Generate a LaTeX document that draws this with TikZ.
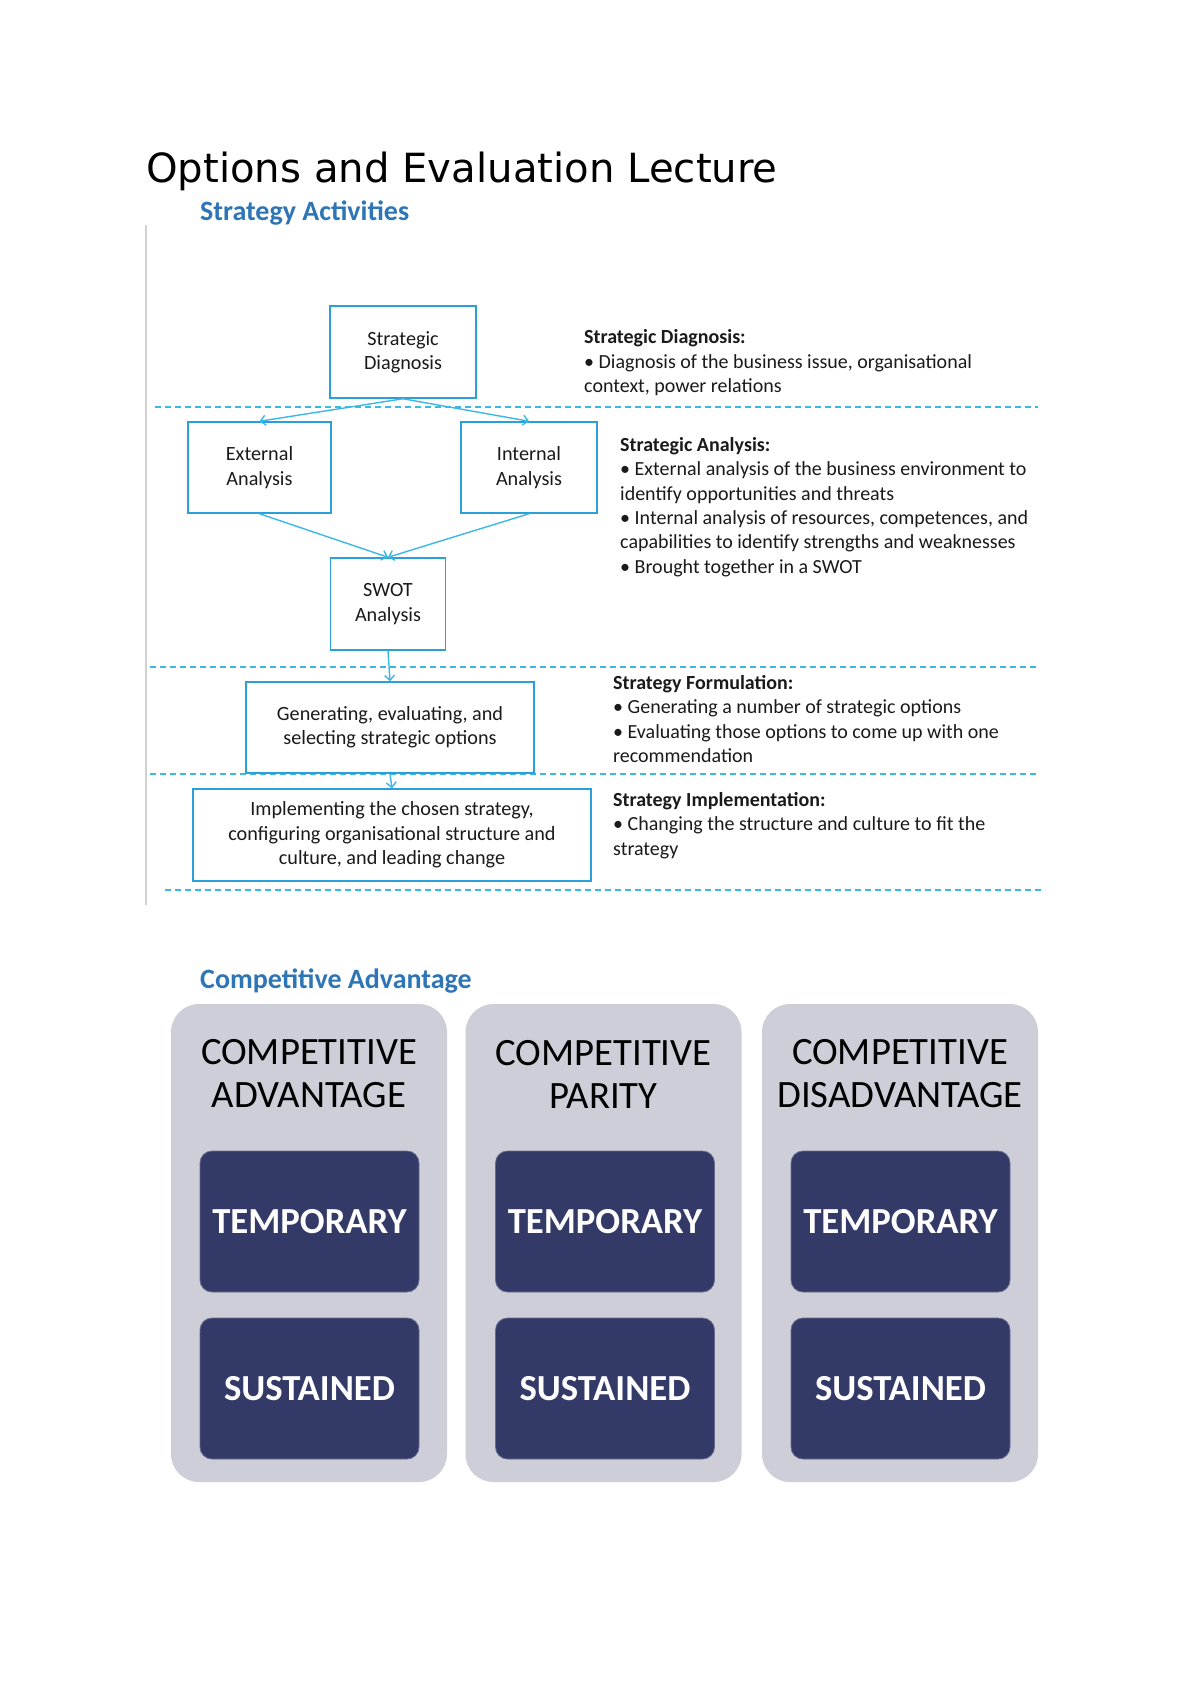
\documentclass[tikz,border=0pt]{standalone}
\usepackage{fontspec}
\setmainfont{Carlito}
\newfontfamily\titlefont{DejaVu Sans}
\usetikzlibrary{arrows.meta}
\definecolor{boxblue}{RGB}{41,161,216}
\definecolor{dashblue}{RGB}{60,184,230}
\definecolor{headblue}{RGB}{46,117,182}
\definecolor{panelgray}{RGB}{205,206,215}
\definecolor{darkbox}{RGB}{52,58,104}
\definecolor{txt}{RGB}{26,26,26}
\begin{document}
\begin{tikzpicture}[x=1pt,y=-1pt,
  flowbox/.style={draw=boxblue, line width=1.5pt, fill=white, align=center, inner sep=0pt, text=txt, font=\fontsize{20.2}{24.4}\selectfont},
  note/.style={anchor=north west, inner sep=0pt, align=left, text=txt, font=\fontsize{20}{24.4}\selectfont},
  sep/.style={dashblue, line width=1.5pt, dash pattern=on 6pt off 4pt},
  flow/.style={dashblue, line width=1.4pt, -{Straight Barb[length=5pt,width=10pt]}},
  panel/.style={fill=panelgray, rounded corners=28pt, minimum width=276pt, minimum height=478pt, inner sep=0pt},
  tile/.style={fill=darkbox, draw=darkbox!75!white, line width=0.8pt, rounded corners=12pt, minimum width=219pt, minimum height=141pt, text=white, font=\fontsize{36.7}{40}\selectfont\bfseries, inner sep=0pt},
  paneltitle/.style={align=center, text=black, font=\fontsize{38.7}{43}\selectfont, inner sep=0pt},
  heading/.style={anchor=west, inner sep=0pt, text=headblue, font=\fontsize{28}{32}\selectfont\bfseries}
]
\useasboundingbox (0,0) rectangle (1200,1698);
\fill[white] (0,0) rectangle (1200,1698);

% title and headings
\node[anchor=west, inner sep=0pt, font=\titlefont\fontsize{40.2}{48}\selectfont] (title) at (146,171) {Options and Evaluation Lecture};
\node[heading] (h1) at (200,213) {Strategy Activities};
\node[heading] (h2) at (200,981) {Competitive Advantage};

% left rule
\draw[black!18, line width=1.5pt] (146,225) -- (146,905);

% separators
\draw[sep] (155,407) -- (1038,407);
\draw[sep] (150,667) -- (1038,667);
\draw[sep] (150,774) -- (1038,774);
\draw[sep] (165,890) -- (1045,890);

% flow boxes
\node[flowbox, minimum width=146pt, minimum height=92pt] (sd) at (403,352) {Strategic\\Diagnosis};
\node[flowbox, minimum width=143pt, minimum height=91pt] (ext) at (259.5,467.5) {External\\Analysis};
\node[flowbox, minimum width=136pt, minimum height=91pt] (int) at (529,467.5) {Internal\\Analysis};
\node[flowbox, minimum width=115pt, minimum height=92pt] (swot) at (388,604) {SWOT\\Analysis};
\node[flowbox, minimum width=288pt, minimum height=91pt] (gen) at (390,727.5) {Generating, evaluating, and\\selecting strategic options};
\node[flowbox, minimum width=398pt, minimum height=92pt] (impl) at (392,835) {Implementing the chosen strategy,\\configuring organisational structure and\\culture, and leading change};

% connectors
\draw[flow] (sd.south) -- (ext.north);
\draw[flow] (sd.south) -- (int.north);
\draw[flow] (ext.south) -- (swot.north);
\draw[flow] (int.south) -- (swot.north);
\draw[flow] (swot.south) -- (gen.north);
\draw[flow] (gen.south) -- (impl.north);

% notes
\node[note] (n1) at (584,329.5) {\textbf{Strategic Diagnosis:}\\• Diagnosis of the business issue, organisational\\context, power relations};
\node[note] (n2) at (620,437) {\textbf{Strategic Analysis:}\\• External analysis of the business environment to\\identify opportunities and threats\\• Internal analysis of resources, competences, and\\capabilities to identify strengths and weaknesses\\• Brought together in a SWOT};
\node[note] (n3) at (613,675) {\textbf{Strategy Formulation:}\\• Generating a number of strategic options\\• Evaluating those options to come up with one\\recommendation};
\node[note] (n4) at (613,792) {\textbf{Strategy Implementation:}\\• Changing the structure and culture to fit the\\strategy};

% competitive advantage panels
\node[panel] (p1) at (309,1243) {};
\node[panel] (p2) at (603.5,1243) {};
\node[panel] (p3) at (900,1243) {};

\node[paneltitle] (t1) at (309,1074) {COMPETITIVE\\ADVANTAGE};
\node[paneltitle] (t2) at (603.5,1074) {COMPETITIVE\\PARITY};
\node[paneltitle] (t3) at (900,1074) {COMPETITIVE\\DISADVANTAGE};

\node[tile] (a1) at (309.5,1221.5) {TEMPORARY};
\node[tile] (a2) at (605,1221.5) {TEMPORARY};
\node[tile] (a3) at (900.5,1221.5) {TEMPORARY};
\node[tile] (b1) at (309.5,1388.5) {SUSTAINED};
\node[tile] (b2) at (605,1388.5) {SUSTAINED};
\node[tile] (b3) at (900.5,1388.5) {SUSTAINED};
\end{tikzpicture}
\end{document}
